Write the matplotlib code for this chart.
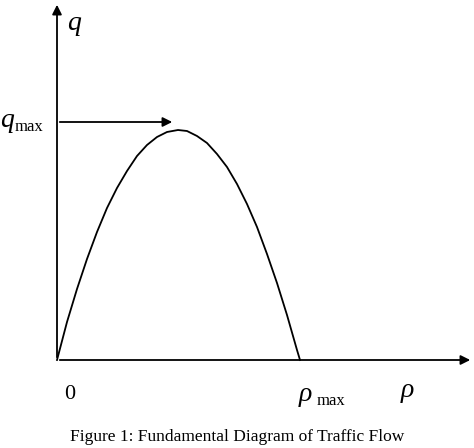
import matplotlib.pyplot as plt

plt.rcParams['font.family'] = ['Liberation Serif', 'DejaVu Serif']
plt.rcParams['mathtext.fontset'] = 'custom'
plt.rcParams['mathtext.rm'] = 'Liberation Serif'
plt.rcParams['mathtext.it'] = 'Liberation Serif:italic'

# density / flow (arbitrary units)
rho = [0, 10, 20, 30, 40, 50, 60, 70, 80, 90, 100, 110, 121, 130, 140, 150,
       160, 170, 180, 190, 200, 210, 220, 230, 240, 243]
flow = [0, 38, 71, 101, 128, 152, 172, 189, 204, 215, 223, 228, 230, 229, 224, 217,
        206, 193, 176, 156, 133, 106, 77, 45, 10, 0]
q_max_level = 238
arrow_end = 118

ox, oy = 57, 88  # origin in figure pixels

fig = plt.figure(figsize=(4.74, 4.48), dpi=100)
ax = fig.add_axes([0, 0, 1, 1])
ax.set_xlim(0, 474)
ax.set_ylim(0, 448)
ax.axis('off')

arrow = dict(arrowstyle='-|>', color='black', lw=1.3, mutation_scale=14)
ax.annotate('', xy=(473, oy), xytext=(ox, oy), arrowprops=arrow)
ax.annotate('', xy=(ox, 446), xytext=(ox, oy), arrowprops=arrow)
ax.annotate('', xy=(ox + arrow_end, oy + q_max_level), xytext=(ox, oy + q_max_level),
            arrowprops=arrow)

ax.plot([ox + r for r in rho], [oy + f for f in flow], color='black', lw=1.3,
        solid_joinstyle='round', antialiased=True)

ax.text(75, 423, '$q$', fontsize=20, ha='center', va='center')
ax.text(0, 326, r'$q$', fontsize=20, ha='left', va='center')
ax.text(15, 321, 'max', fontsize=12, ha='left', va='center')
ax.text(70, 54, '0', fontsize=16, ha='center', va='center')
ax.text(306, 52, r'$\rho$', fontsize=20, ha='center', va='center')
ax.text(317, 47, 'max', fontsize=12, ha='left', va='center')
ax.text(408, 56, r'$\rho$', fontsize=20, ha='center', va='center')
ax.text(237, 11, 'Figure 1: Fundamental Diagram of Traffic Flow', fontsize=12.5,
        ha='center', va='center')

fig.savefig('out.png', dpi=100)
